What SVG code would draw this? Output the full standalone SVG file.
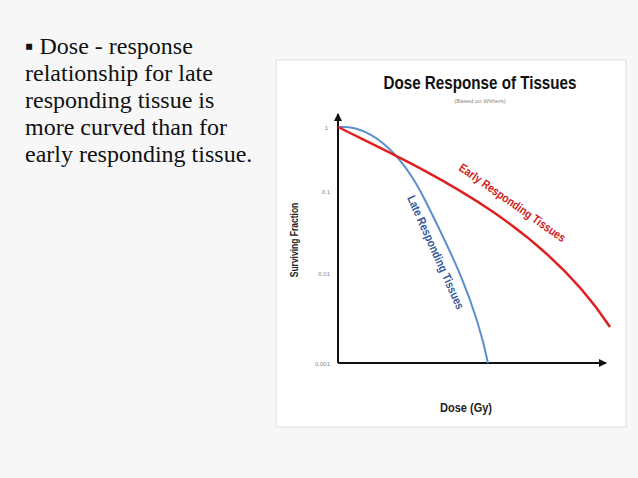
<svg xmlns="http://www.w3.org/2000/svg" width="638" height="478" viewBox="0 0 638 478">
<style>
.b{font-family:"Liberation Serif",serif;font-size:24px;fill:#111}
.c{font-family:"Liberation Sans",Arial,sans-serif;font-weight:bold}
.t{font-family:"Liberation Sans",Arial,sans-serif;font-size:6px;fill:#888}
</style>
<defs><marker id="ar" markerWidth="8" markerHeight="8" refX="7" refY="4" orient="auto" markerUnits="userSpaceOnUse"><path d="M0,0L8,4L0,8z" fill="#111"/></marker></defs>
<rect width="638" height="478" fill="#f7f7f7"/>
<g id="text">
<text class="b" x="25" y="54">▪ Dose - response</text>
<text class="b" x="25" y="81">relationship for late</text>
<text class="b" x="25" y="108">responding tissue is</text>
<text class="b" x="25" y="135">more curved than for</text>
<text class="b" x="25" y="162">early responding tissue.</text>
</g>
<g id="chart">
<rect x="276" y="60" width="350" height="367" fill="#fff" stroke="#ddd"/>
<text class="c" x="480" y="89" font-size="19" text-anchor="middle" fill="#111" transform="translate(480 0) scale(0.8 1) translate(-480 0)">Dose Response of Tissues</text>
<text class="t" x="480" y="103" text-anchor="middle">(Based on Withers)</text>
<text class="c" font-size="10" fill="#222" text-anchor="middle" transform="translate(298 240) rotate(-90) scale(0.85 1)">Surviving Fraction</text>
<text class="c" x="466" y="412" font-size="13" fill="#222" text-anchor="middle" transform="translate(466 0) scale(0.85 1) translate(-466 0)">Dose (Gy)</text>
<g class="t" text-anchor="end">
<text x="328" y="130">1</text><text x="330" y="194">0.1</text><text x="330" y="276">0.01</text><text x="330" y="366">0.001</text>
</g>
</g>
<g id="connectors" fill="none">
<line x1="338" y1="363" x2="338" y2="114" stroke="#111" stroke-width="2" marker-end="url(#ar)"/>
<line x1="338" y1="363" x2="606" y2="363" stroke="#111" stroke-width="2" marker-end="url(#ar)"/>
<path d="M340,127 C375,125 405,160 425,200 C450,250 475,300 488,363" stroke="#5b8fd0" stroke-width="2"/>
<path d="M338,127 C420,168 540,220 610,327" stroke="#e02020" stroke-width="2.5"/>
</g>
<g id="labels" class="c" font-size="12" text-anchor="middle">
<text fill="#3a5a9a" transform="translate(432 254) rotate(66) scale(0.85 1)">Late Responding Tissues</text>
<text fill="#d02020" transform="translate(510 206) rotate(35) scale(0.85 1)">Early Responding Tissues</text>
</g>
</svg>
